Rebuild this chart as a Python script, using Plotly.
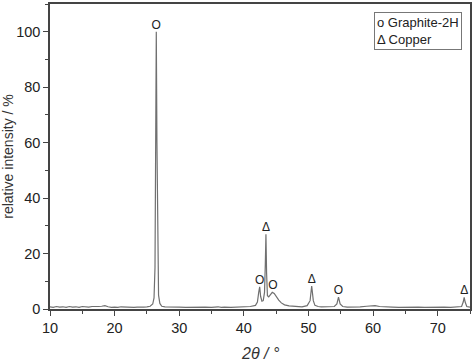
import plotly.graph_objects as go

# Diffractogram: 2theta (deg) and relative intensity (%)
two_theta = [10.0, 10.5, 11.0, 11.5, 12.0, 12.5, 13.0, 13.5, 14.0, 14.5, 15.0, 15.5, 16.0, 16.5,
             17.0, 17.5, 18.0, 18.5, 19.0, 19.5, 20.0, 20.5, 21.0, 21.5, 22.0, 22.5, 23.0, 23.5,
             24.0, 24.5, 25.0, 25.5, 25.9, 26.1, 26.25, 26.35, 26.45, 26.55, 26.65, 26.8, 27.0,
             27.3, 27.8, 28.5, 29.0, 30.0, 31.0, 32.0, 33.0, 34.0, 35.0, 36.0, 36.5, 37.0, 38.0,
             39.0, 40.0, 41.0, 41.8, 42.1, 42.3, 42.45, 42.6, 42.8, 43.0, 43.2, 43.32, 43.42,
             43.52, 43.65, 43.85, 44.1, 44.4, 44.7, 45.0, 45.4, 45.8, 46.3, 47.0, 48.0, 49.0,
             49.8, 50.25, 50.5, 50.75, 51.0, 51.5, 52.0, 53.0, 54.0, 54.4, 54.65, 54.9, 55.3,
             56.0, 57.0, 58.0, 59.0, 59.7, 60.3, 61.0, 62.0, 63.0, 64.0, 65.0, 66.0, 67.0, 68.0,
             69.0, 70.0, 71.0, 72.0, 73.0, 73.7, 73.95, 74.1, 74.25, 74.5, 75.0]
intensity = [0.8, 0.6, 0.9, 0.7, 0.8, 0.6, 0.9, 0.7, 0.8, 0.6, 0.9, 0.8, 0.7, 0.9,
             0.8, 0.9, 1.0, 1.2, 0.8, 0.6, 0.7, 0.6, 0.8, 0.7, 0.6, 0.7, 0.6, 0.7,
             0.6, 0.7, 0.8, 1.0, 1.8, 4.0, 15.0, 45.0, 100.0, 60.0, 20.0, 5.0, 2.0,
             1.0, 0.8, 0.7, 0.6, 0.7, 0.6, 0.7, 0.6, 0.7, 0.6, 0.8, 0.6, 0.7, 0.6,
             0.7, 0.7, 0.9, 1.3, 2.5, 6.0, 8.0, 4.5, 2.8, 3.0, 6.0, 16.0, 27.0,
             13.0, 4.8, 4.4, 5.0, 6.0, 5.6, 4.5, 3.2, 2.2, 1.5, 1.1, 0.9, 0.8,
             1.2, 3.0, 8.3, 3.0, 1.3, 0.9, 0.8, 0.8, 0.9, 1.8, 4.3, 1.8, 0.9,
             0.7, 0.7, 0.8, 1.0, 1.2, 1.2, 0.9, 0.7, 0.7, 0.6, 0.7, 0.6, 0.7, 0.6,
             0.7, 0.6, 0.7, 0.6, 0.7, 0.9, 2.5, 4.2, 2.5, 0.9, 0.7]

# Phase marks above the peaks
label_x = [26.45, 42.45, 43.42, 44.5, 50.5, 54.65, 74.1]
label_y = [100.0, 8.0, 27.0, 6.0, 8.3, 4.3, 4.2]
label_text = ["O", "O", "Δ", "O", "Δ", "O", "Δ"]

legend_lines = ["o Graphite-2H", "Δ Copper"]

x_ticks = [10, 20, 30, 40, 50, 60, 70]
y_ticks = [0, 20, 40, 60, 80, 100]

FONT = "Liberation Sans, Arial, sans-serif"

fig = go.Figure()
fig.add_trace(go.Scatter(x=two_theta, y=intensity, mode="lines",
                         line=dict(color="#707070", width=1.2), showlegend=False))
fig.add_trace(go.Scatter(x=label_x, y=label_y, mode="text", text=label_text,
                         textposition="top center",
                         textfont=dict(family=FONT, size=12, color="#222"),
                         showlegend=False))

fig.add_annotation(xref="paper", yref="paper", x=0.981, y=0.974,
                   xanchor="right", yanchor="top", align="left",
                   text="<br>".join(legend_lines), showarrow=False,
                   font=dict(family=FONT, size=13, color="#222"),
                   bordercolor="#777", borderwidth=1, borderpad=2, bgcolor="white")

fig.add_annotation(xref="paper", yref="paper", x=0.5, y=-0.145,
                   xanchor="center", yanchor="middle", showarrow=False,
                   text="<i>2θ / °</i>", font=dict(family=FONT, size=16, color="#333"))

axis_common = dict(showgrid=False, zeroline=False, showline=True, linecolor="#444",
                   linewidth=1.5, mirror=True, ticks="outside", ticklen=5,
                   tickcolor="#444", tickwidth=1.2,
                   tickfont=dict(family=FONT, size=14.5, color="#222"))

fig.update_xaxes(range=[10, 75], tickvals=x_ticks,
                 minor=dict(dtick=5, ticks="outside", ticklen=3, tickcolor="#444"),
                 **axis_common)
fig.update_yaxes(range=[0, 110], tickvals=y_ticks,
                 minor=dict(dtick=10, ticks="outside", ticklen=3, tickcolor="#444"),
                 title=dict(text="relative intensity / %", standoff=4,
                            font=dict(family=FONT, size=14, color="#333")),
                 **axis_common)

fig.update_layout(width=474, height=361, margin=dict(l=50, r=2, t=3, b=52),
                  plot_bgcolor="white", paper_bgcolor="white",
                  font=dict(family=FONT))

fig.write_html("out.html")
